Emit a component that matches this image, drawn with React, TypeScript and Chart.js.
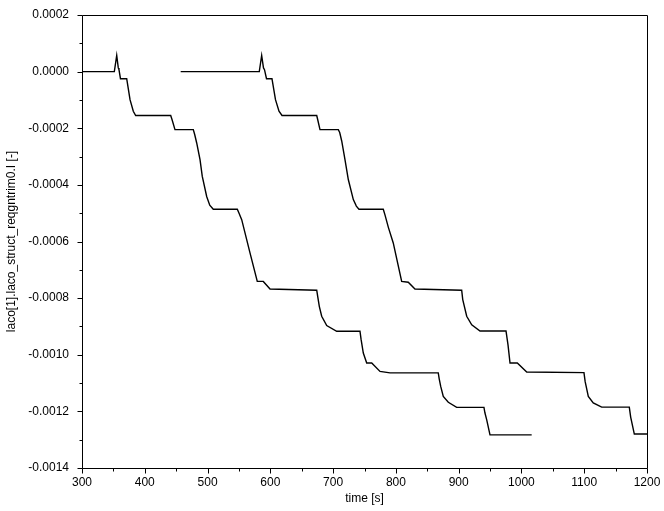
import React, { useEffect, useRef } from "react";
import { Chart, registerables } from "chart.js";

Chart.register(...registerables);

// Series 1 (time [s], value [-])
const s1Time = [300, 351.5, 355.3, 357.8, 358.9, 361.3, 371.2, 376.5, 381.7, 385.5, 441.3, 443.5, 448.1, 477.3, 479.5, 482.7, 488.0, 491.6, 498.6, 503.5, 509.1, 547.4, 549.5, 554.4, 567.6, 579.2, 588.8, 599.5, 673.9, 675.5, 678.0, 681.8, 689.8, 705.7, 742.8, 744.5, 748.1, 753.5, 761.5, 774.7, 790.6, 867.5, 869.0, 871.4, 875.5, 883.5, 896.8, 940.3, 941.8, 944.6, 949.9, 1016.3];
const s1Value = [0, 0, 0.000057, 0.000013, 0.000007, -0.000025, -0.000025, -0.000099, -0.00014, -0.000155, -0.000155, -0.00017, -0.000205, -0.000205, -0.000222, -0.000252, -0.000311, -0.00037, -0.000441, -0.000472, -0.000486, -0.000486, -0.000497, -0.000523, -0.00064, -0.000741, -0.000741, -0.000768, -0.000772, -0.000795, -0.000829, -0.000864, -0.000897, -0.000917, -0.000917, -0.000945, -0.000994, -0.001029, -0.001029, -0.001059, -0.001064, -0.001064, -0.001085, -0.001112, -0.001147, -0.001168, -0.001186, -0.001186, -0.001205, -0.001229, -0.001283, -0.001283];

// Series 2 (time [s], value [-])
const s2Time = [457.2, 582.4, 586.2, 589.1, 590.7, 593.9, 602.6, 608.2, 613.8, 618.6, 673.9, 675.5, 679.1, 708.3, 710.5, 713.7, 718.9, 724.2, 732.2, 737.0, 741.2, 779.9, 782.5, 788.0, 795.8, 809.2, 819.7, 830.4, 904.8, 906.5, 912.8, 920.8, 934.0, 975.4, 978.6, 981.8, 993.4, 1008.4, 1099.6, 1101.5, 1106.5, 1114.4, 1127.8, 1171.8, 1174.0, 1179.8, 1200];
const s2Value = [0, 0, 0.000057, 0.000013, 0.000007, -0.000025, -0.000025, -0.000099, -0.00014, -0.000155, -0.000155, -0.00017, -0.000205, -0.000205, -0.000215, -0.000245, -0.000311, -0.000381, -0.000452, -0.000475, -0.000486, -0.000486, -0.000505, -0.00055, -0.000605, -0.000741, -0.000744, -0.000768, -0.000772, -0.000805, -0.000864, -0.000894, -0.000916, -0.000916, -0.000965, -0.001029, -0.001029, -0.001061, -0.001063, -0.001095, -0.001147, -0.00117, -0.001185, -0.001185, -0.00122, -0.00128, -0.00128];

const xMin = 300;
const xMax = 1200;
const xMajorStep = 100;
const xMinorStep = 50;
const yMin = -0.0014;
const yMax = 0.0002;
const yMajorStep = 0.0002;
const yMinorStep = 0.0001;

const xTitle = "time [s]";
const yTitle = "laco[1].laco_struct_reqgntrim0.I [-]";

const FONT = "'Liberation Sans', Arial, sans-serif";

const framePlugin = {
  id: "frameAndMinorTicks",
  afterDraw(chart: any) {
    const { ctx, chartArea } = chart;
    const xs = chart.scales.x;
    const ys = chart.scales.y;
    ctx.save();
    ctx.strokeStyle = "#000";
    ctx.lineWidth = 1;
    ctx.beginPath();
    const l = Math.round(chartArea.left) + 0.5;
    const r = Math.round(chartArea.right) + 0.5;
    const t = Math.round(chartArea.top) + 0.5;
    const b = Math.round(chartArea.bottom) + 0.5;
    ctx.moveTo(l, t);
    ctx.lineTo(r, t);
    ctx.lineTo(r, b);
    ctx.lineTo(l, b);
    ctx.closePath();
    const nx = Math.round((xMax - xMin) / xMinorStep);
    for (let i = 0; i <= nx; i++) {
      const v = xMin + i * xMinorStep;
      const px = Math.round(xs.getPixelForValue(v)) + 0.5;
      const len = i % Math.round(xMajorStep / xMinorStep) === 0 ? 5 : 3;
      ctx.moveTo(px, b);
      ctx.lineTo(px, b + len);
    }
    const ny = Math.round((yMax - yMin) / yMinorStep);
    for (let i = 0; i <= ny; i++) {
      const v = yMin + i * yMinorStep;
      const py = Math.round(ys.getPixelForValue(v)) + 0.5;
      const len = i % Math.round(yMajorStep / yMinorStep) === 0 ? 5 : 3;
      ctx.moveTo(l, py);
      ctx.lineTo(l - len, py);
    }
    ctx.stroke();
    ctx.restore();
  },
};

export default function App() {
  const ref = useRef<HTMLCanvasElement | null>(null);
  useEffect(() => {
    if (!ref.current) return;
    const mk = (ts: number[], vs: number[]) => ts.map((t, i) => ({ x: t, y: vs[i] }));
    const chart = new Chart(ref.current, {
      type: "line",
      data: {
        datasets: [
          { data: mk(s1Time, s1Value), borderColor: "#000", borderWidth: 1.4, pointRadius: 0, tension: 0, fill: false },
          { data: mk(s2Time, s2Value), borderColor: "#000", borderWidth: 1.4, pointRadius: 0, tension: 0, fill: false },
        ],
      },
      options: {
        responsive: false,
        animation: false,
        events: [],
        layout: { padding: { top: 15, right: 17, bottom: 0, left: 0 } },
        plugins: { legend: { display: false }, tooltip: { enabled: false }, title: { display: false } },
        scales: {
          x: {
            type: "linear",
            min: xMin,
            max: xMax,
            afterFit(s: any) {
              s.height = 43;
              s.paddingLeft = 0;
              s.paddingRight = 0;
              s.paddingTop = 0;
              s.paddingBottom = 0;
            },
            ticks: {
              stepSize: xMajorStep,
              autoSkip: false,
              maxRotation: 0,
              padding: 7,
              color: "#000",
              font: { family: FONT, size: 12 },
              callback: (v: any) => String(v),
            },
            grid: { display: false, drawTicks: false },
            border: { display: false },
            title: { display: true, text: xTitle, color: "#000", font: { family: FONT, size: 12 }, padding: { top: 0, bottom: 5 } },
          },
          y: {
            type: "linear",
            min: yMin,
            max: yMax,
            afterFit(s: any) {
              s.width = 82;
              s.paddingLeft = 0;
              s.paddingRight = 0;
              s.paddingTop = 0;
              s.paddingBottom = 0;
            },
            ticks: {
              stepSize: yMajorStep,
              autoSkip: false,
              padding: 13,
              color: "#000",
              font: { family: FONT, size: 12 },
              callback: (v: any) => Number(v).toFixed(4),
            },
            grid: { display: false, drawTicks: false },
            border: { display: false },
            title: { display: true, text: yTitle, color: "#000", font: { family: FONT, size: 12 }, padding: { top: 4, bottom: 0 } },
          },
        },
      },
      plugins: [framePlugin],
    } as any);
    return () => chart.destroy();
  }, []);
  return (
    <div style={{ position: "fixed", left: 0, top: 0, width: 664, height: 511, background: "#fff" }}>
      <canvas ref={ref} width={664} height={511} style={{ display: "block" }} />
    </div>
  );
}
